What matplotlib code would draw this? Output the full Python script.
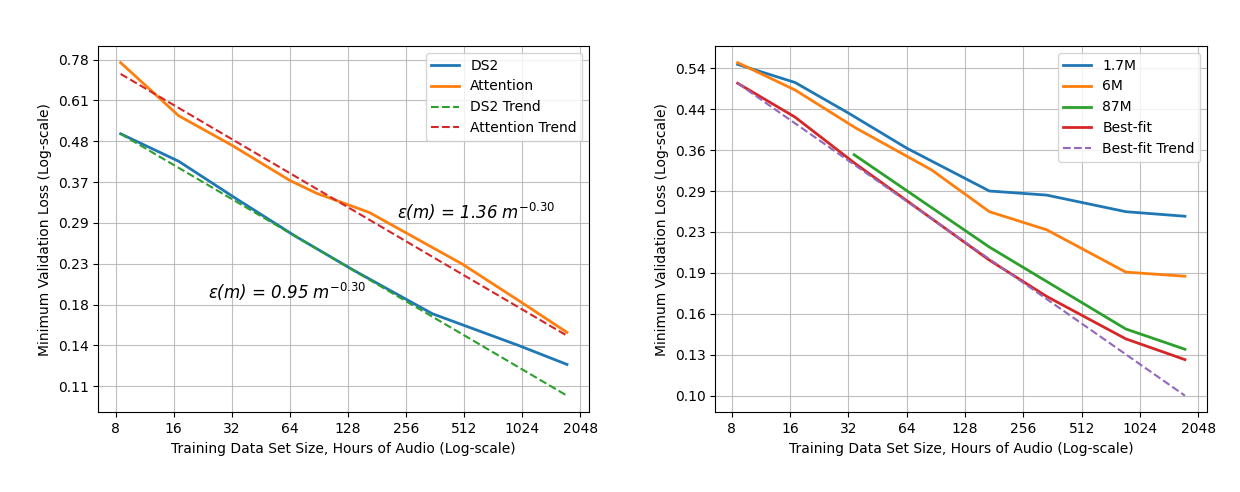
import numpy as np
import matplotlib
matplotlib.use("Agg")
import matplotlib.pyplot as plt
from matplotlib.ticker import FixedLocator, FixedFormatter, NullLocator

# ---------------- data (left panel) ----------------
ds2_hours = [8.5, 17, 34, 68, 136, 350, 980, 1745]
ds2_loss = [0.500, 0.424, 0.338, 0.271, 0.221, 0.170, 0.1405, 0.1254]

att_hours = [8.5, 17, 32, 64, 88, 165, 500, 980, 1745]
att_loss = [0.766, 0.557, 0.467, 0.378, 0.350, 0.312, 0.229, 0.184, 0.152]

ds2_trend_hours = [8.5, 1745]
ds2_trend_loss = [0.500, 0.104]
att_trend_hours = [8.5, 1745]
att_trend_loss = [0.716, 0.149]

left_ytick_labels = ["0.78", "0.61", "0.48", "0.37", "0.29", "0.23", "0.18", "0.14", "0.11"]

# ---------------- data (right panel) ----------------
m17_hours = [8.6, 17, 32, 64, 171, 338, 864, 1745]
m17_loss = [0.551, 0.502, 0.429, 0.358, 0.287, 0.281, 0.258, 0.252]

m6_hours = [8.6, 17, 35, 86, 171, 338, 864, 1745]
m6_loss = [0.556, 0.483, 0.397, 0.320, 0.258, 0.235, 0.189, 0.185]

m87_hours = [34.3, 171, 864, 1745]
m87_loss = [0.346, 0.215, 0.141, 0.127]

best_hours = [8.6, 17, 34.6, 171, 338, 864, 1745]
best_loss = [0.500, 0.420, 0.331, 0.201, 0.1667, 0.134, 0.1204]

best_trend_hours = [8.6, 1745]
best_trend_loss = [0.500, 0.100]

right_ytick_labels = ["0.54", "0.44", "0.36", "0.29", "0.23", "0.19", "0.16", "0.13", "0.10"]

xtick_values = [8, 16, 32, 64, 128, 256, 512, 1024, 2048]

xlabel = "Training Data Set Size, Hours of Audio (Log-scale)"
ylabel = "Minimum Validation Loss (Log-scale)"

# ---------------- figure ----------------
fig = plt.figure(figsize=(12.4, 4.92), dpi=100)
W, H = 1240, 492
def ax_rect(x0, x1, y0, y1):
    return [x0 / W, 1 - y1 / H, (x1 - x0) / W, (y1 - y0) / H]

axL = fig.add_axes(ax_rect(98.3, 589.3, 46, 412.3))
axR = fig.add_axes(ax_rect(715.3, 1207.3, 46, 412.3))

C = plt.rcParams['axes.prop_cycle'].by_key()['color']

def style_axis(ax, ylabels):
    ax.set_xscale('log', base=2)
    ax.set_yscale('log')
    ax.xaxis.set_major_locator(FixedLocator(xtick_values))
    ax.xaxis.set_major_formatter(FixedFormatter([str(v) for v in xtick_values]))
    ax.xaxis.set_minor_locator(NullLocator())
    lo = float(ylabels[-1]); hi = float(ylabels[0])
    pos = np.geomspace(hi, lo, len(ylabels))
    ax.yaxis.set_major_locator(FixedLocator(pos))
    ax.yaxis.set_major_formatter(FixedFormatter(ylabels))
    ax.yaxis.set_minor_locator(NullLocator())
    ax.grid(True, which='major', color='#b0b0b0', linewidth=0.8, alpha=0.8)
    ax.set_xlabel(xlabel, fontsize=10)
    ax.set_ylabel(ylabel, fontsize=10)
    ax.tick_params(labelsize=10)

axL.plot(ds2_hours, ds2_loss, color=C[0], lw=2, label='DS2')
axL.plot(att_hours, att_loss, color=C[1], lw=2, label='Attention')
axL.plot(ds2_trend_hours, ds2_trend_loss, '--', color=C[2], lw=1.5, label='DS2 Trend')
axL.plot(att_trend_hours, att_trend_loss, '--', color=C[3], lw=1.5, label='Attention Trend')
style_axis(axL, left_ytick_labels)
axL.legend(loc='upper right', fontsize=10)
axL.text(230, 0.2995, r'ε(m) = 1.36 m$^{\mathit{-0.30}}$', fontsize=12, style='italic',
         ha='left', va='baseline')
axL.text(24.2, 0.1858, r'ε(m) = 0.95 m$^{\mathit{-0.30}}$', fontsize=12, style='italic',
         ha='left', va='baseline')

axR.plot(m17_hours, m17_loss, color=C[0], lw=2, label='1.7M')
axR.plot(m6_hours, m6_loss, color=C[1], lw=2, label='6M')
axR.plot(m87_hours, m87_loss, color=C[2], lw=2, label='87M')
axR.plot(best_hours, best_loss, color=C[3], lw=2, label='Best-fit')
axR.plot(best_trend_hours, best_trend_loss, '--', color=C[4], lw=1.5, label='Best-fit Trend')
style_axis(axR, right_ytick_labels)
axR.legend(loc='upper right', fontsize=10)

fig.savefig('out.png', dpi=100)
